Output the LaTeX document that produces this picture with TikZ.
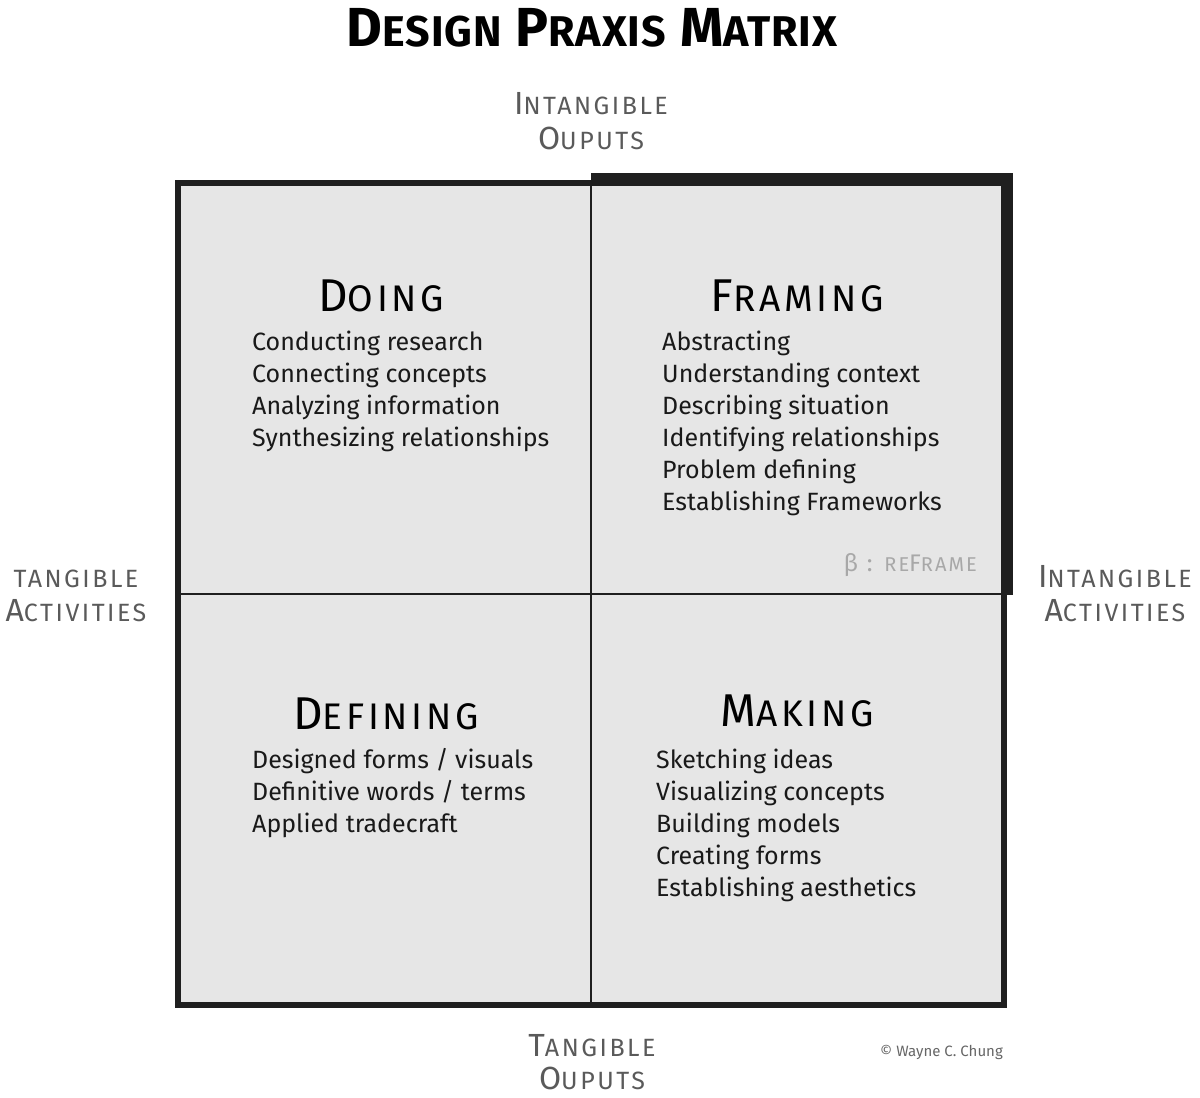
\documentclass[tikz,border=0pt]{standalone}
\usepackage{fontspec}
\setmainfont{Fira Sans}
\newfontfamily\firab{Fira Sans}[UprightFont=* Bold,LetterSpace=2]
\newfontfamily\spaced{Fira Sans}[LetterSpace=10]
\definecolor{qfill}{HTML}{E6E6E6}
\definecolor{axisc}{HTML}{5A5A5A}
\definecolor{betac}{HTML}{A8A8A8}
% cap + small-caps emulation: #1 size big, #2 size small
\newcommand\mysc[4]{{\fontsize{#1}{#1}\selectfont #3}{\fontsize{#2}{#2}\selectfont #4}}
\tikzset{
  item/.style={anchor=base west,font=\fontsize{25}{25}\selectfont,text=black!90,inner sep=0},
  head/.style={anchor=base,inner sep=0,font=\spaced},
  axis/.style={anchor=base,inner sep=0,text=axisc,font=\spaced},
}
\begin{document}
\begin{tikzpicture}[x=1pt,y=-1pt]
\useasboundingbox (0,0) rectangle (1200,1098);
% quadrants
\fill[qfill] (178,183) rectangle (1005,1005);
\draw[line width=6pt,black!88] (178,183) rectangle (1004,1005);
\draw[line width=2.5pt,black!88] (591,183) -- (591,1005);
\draw[line width=2.5pt,black!88] (178,594) -- (1004,594);
\draw[line width=9pt,black!88] (591,177) -- (1008,177) -- (1008,595);
% title
\node[anchor=base,inner sep=0] (title) at (592,46) {\firab\mysc{55}{43}{D}{ESIGN}\hspace{14pt}\mysc{55}{43}{P}{RAXIS}\hspace{14pt}\mysc{55}{43}{M}{ATRIX}};
% axes
\node[axis] (t1) at (591,114) {\mysc{32}{25}{I}{NTANGIBLE}};
\node[axis] (t2) at (591,149) {\mysc{32}{25}{O}{UPUTS}};
\node[axis] (b1) at (592,1056) {\mysc{32}{25}{T}{ANGIBLE}};
\node[axis] (b2) at (592,1089) {\mysc{32}{25}{O}{UPUTS}};
\node[axis] (l1) at (76,587) {\mysc{32}{25}{}{TANGIBLE}};
\node[axis] (l2) at (76,621) {\mysc{32}{25}{A}{CTIVITIES}};
\node[axis] (r1) at (1115,587) {\mysc{32}{25}{I}{NTANGIBLE}};
\node[axis] (r2) at (1115,621) {\mysc{32}{25}{A}{CTIVITIES}};
% headings
\node[head] (hd) at (381,311) {\mysc{46}{37}{D}{OING}};
\node[head] (hf) at (797,311) {\mysc{46}{37}{F}{RAMING}};
\node[head] (hdf) at (386,729) {\mysc{46}{37}{D}{EFINING}};
\node[head] (hm) at (797,726) {\mysc{46}{37}{M}{AKING}};
% lists
\node[item] (d1) at (252,350) {Conducting research};
\node[item] (d2) at (252,382) {Connecting concepts};
\node[item] (d3) at (252,414) {Analyzing information};
\node[item] (d4) at (252,446) {Synthesizing relationships};
\node[item] (f1) at (662,350) {Abstracting};
\node[item] (f2) at (662,382) {Understanding context};
\node[item] (f3) at (662,414) {Describing situation};
\node[item] (f4) at (662,446) {Identifying relationships};
\node[item] (f5) at (662,478) {Problem defining};
\node[item] (f6) at (662,510) {Establishing Frameworks};
\node[item] (e1) at (252,768) {Designed forms / visuals};
\node[item] (e2) at (252,800) {Definitive words / terms};
\node[item] (e3) at (252,832) {Applied tradecraft};
\node[item] (m1) at (656,768) {Sketching ideas};
\node[item] (m2) at (656,800) {Visualizing concepts};
\node[item] (m3) at (656,832) {Building models};
\node[item] (m4) at (656,864) {Creating forms};
\node[item] (m5) at (656,896) {Establishing aesthetics};
% beta
\node[anchor=base east,inner sep=0,text=betac,font=\spaced] (beta) at (977,571) {{\fontsize{24}{24}\selectfont β : }\mysc{24}{20}{}{RE}\mysc{24}{20}{F}{RAME}};
% copyright
\node[anchor=base east,inner sep=0,text=black!60,font=\fontsize{15}{15}\selectfont] (copy) at (1003,1056) {© Wayne C. Chung};
\end{tikzpicture}
\end{document}
